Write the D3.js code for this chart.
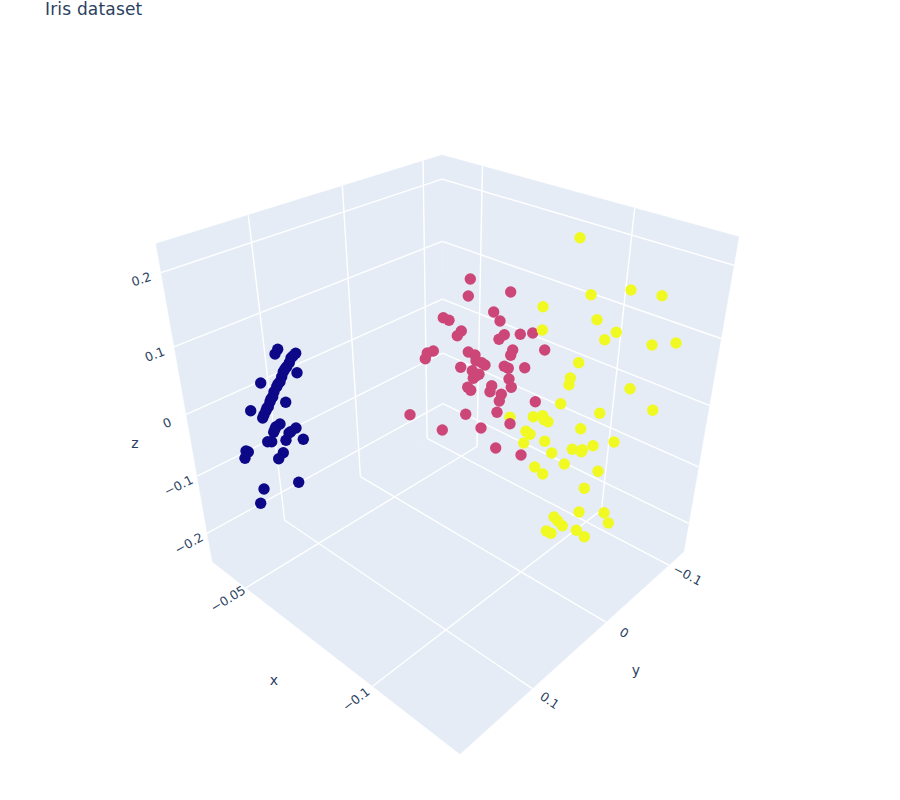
<!DOCTYPE html>
<html>
<head>
<meta charset="utf-8">
<script src="https://cdn.jsdelivr.net/npm/d3@7"></script>
<style>
  body { margin: 0; background: #fff; }
  text { font-family: "DejaVu Sans", Verdana, sans-serif; fill: #2a3f5f; }
</style>
</head>
<body>
<div id="chart"></div>
<script>
// axis ticks and the value each box edge stands for
const xDomain = [-0.0345, -0.1282];
const yDomain = [-0.1257, 0.1842];
const zDomain = [-0.2533, 0.2366];
const xTicks = [-0.05, -0.1];
const yTicks = [-0.1, 0, 0.1];
const zTicks = [-0.2, -0.1, 0, 0.1, 0.2];
const xTickLabels = ["\u22120.05", "\u22120.1"];
const yTickLabels = ["\u22120.1", "0", "0.1"];
const zTickLabels = ["\u22120.2", "\u22120.1", "0", "0.1", "0.2"];

// Points: position on the view plane (depth can't be
// read from a single view), horizontal 0-90, vertical 0-80 counted from the bottom
const setosaH = [27.77, 27.5, 29.57, 29.1, 28.93, 28.67, 29.7, 28.33, 28.17, 28, 26.07, 27.67, 27.4, 27.27, 28.57, 27, 26.83, 25.07, 26.6, 26.4, 26.27, 28, 27.6, 27.37, 29.6, 29.07, 28.6, 30.33, 27.17, 26.77, 24.83, 24.6, 24.5, 28.33, 27.87, 29.87, 26.4, 26.07, 29.3, 28.5, 27.8, 27.1, 26.7, 27.5, 28.9];
const setosaV = [45.07, 44.6, 44.67, 44.2, 43.73, 43.33, 42.73, 42.83, 42.33, 41.83, 41.7, 41.33, 40.83, 40.33, 39.77, 39.83, 39.33, 38.93, 38.93, 38.53, 38.2, 37.6, 37.33, 36.77, 37.2, 36.83, 35.97, 36.07, 35.83, 35.83, 34.8, 34.9, 34.17, 34.73, 34.13, 31.77, 31.1, 29.67, 44.4, 43.1, 41.6, 40.1, 39.2, 37.1, 36.7];

const versicolorH = [47.03, 46.83, 51.07, 49.37, 50, 44.33, 44.9, 46.13, 45.73, 50.43, 49.9, 52.03, 53.27, 54.47, 51.27, 51.07, 43.33, 42.73, 42.53, 46.83, 47.5, 47.6, 48.17, 48.5, 46.07, 47.23, 47.9, 47.6, 47.33, 50.43, 50.83, 52.47, 50.9, 51.13, 49.17, 49, 46.77, 47.07, 50.13, 49.93, 53.53, 49.7, 46.57, 41, 51, 44.23, 48.1, 49.57, 52.1];
const versicolorV = [52.1, 50.4, 50.8, 48.8, 47.9, 48.23, 47.97, 46.9, 46.43, 46.53, 46.07, 46.57, 46.7, 45, 45, 44.47, 44.9, 44.7, 44.13, 44.8, 44.5, 43.93, 43.73, 43.5, 43.27, 42.93, 42.57, 42.4, 42.17, 43.37, 43.17, 43.23, 42.1, 41.27, 41.43, 40.83, 41.27, 40.97, 40.57, 39.9, 39.83, 38.77, 38.57, 38.53, 37.63, 37, 37.2, 35.2, 34.5];

// the first virginica point sits behind the versicolor cloud
const virginicaH = [51, 58, 59.1, 63.1, 66.2, 54.3, 59.7, 61.63, 60.47, 65.2, 67.6, 54.23, 57.87, 57.03, 56.9, 63, 56.07, 65.27, 59.97, 53.33, 54.27, 54.4, 54.8, 58.07, 52.6, 53, 52.37, 54.47, 61.4, 55.17, 57.23, 59.3, 58.23, 58.13, 56.43, 53.47, 54.27, 59.8, 58.43, 57.9, 60.4, 60.83, 55.4, 55.77, 56.23, 54.63, 55.1, 57.63, 58.43];
const virginicaV = [38.27, 56.23, 50.53, 51, 50.43, 49.33, 48.03, 46.77, 46.03, 45.5, 45.7, 47, 43.73, 42.2, 41.53, 41.13, 39.63, 38.97, 38.67, 38.33, 38.43, 38.03, 37.83, 37.13, 36.87, 36.57, 35.7, 35.87, 35.8, 34.7, 35.07, 35.43, 35.03, 34.83, 33.6, 33.3, 32.6, 32.87, 31.17, 28.8, 28.73, 27.7, 28.3, 27.9, 27.43, 26.9, 26.67, 26.97, 26.33];

const width = 900, height = 800;

// perspective of the box, fitted to its corners and grid crossings:
// screen = (O + t*U + s*V + r*W) for unit box coordinates t, s, r
const camO = [443.01, 429.17, 1];
const camU = [123.7074, 28.2365, -0.1711];
const camV = [-269.3458, 30.1867, -0.1823];
const camW = [-70.6126, -298.4709, -0.1574];

function projectUnit(t, s, r) {
    const p = camO.map((n, i) => n + t * camU[i] + s * camV[i] + r * camW[i]);
    return [p[0] / p[2], p[1] / p[2]];
}

const x = d3.scaleLinear().domain(xDomain).range([0, 1]);
const y = d3.scaleLinear().domain(yDomain).range([0, 1]);
const z = d3.scaleLinear().domain(zDomain).range([0, 1]);
const project = (a, b, c) => projectUnit(x(a), y(b), z(c));

const viewH = d3.scaleLinear().domain([0, 90]).range([0, width]);
const viewV = d3.scaleLinear().domain([0, 80]).range([height, 0]);

const svg = d3.select("#chart")
    .append("svg")
    .attr("width", width)
    .attr("height", height);

const line = d3.line();

// walls and floor
const faces = [
    [[0, 0, 0], [1, 0, 0], [1, 0, 1], [0, 0, 1]],
    [[0, 0, 0], [0, 1, 0], [0, 1, 1], [0, 0, 1]],
    [[0, 0, 0], [1, 0, 0], [1, 1, 0], [0, 1, 0]]
];
svg.append("g")
    .selectAll("path")
    .data(faces)
    .join("path")
    .attr("d", d => line(d.map(c => projectUnit(c[0], c[1], c[2]))) + "Z")
    .attr("fill", "#E5ECF6")
    .attr("stroke", "#E5ECF6")
    .attr("stroke-width", 0.5);

// grid lines: [start, end] in data coordinates
const [x0, x1] = xDomain, [y0, y1] = yDomain, [z0, z1] = zDomain;
const grid = [];
xTicks.forEach(t => {
    grid.push([[t, y0, z0], [t, y1, z0]]);
    grid.push([[t, y0, z0], [t, y0, z1]]);
});
yTicks.forEach(t => {
    grid.push([[x0, t, z0], [x1, t, z0]]);
    grid.push([[x0, t, z0], [x0, t, z1]]);
});
zTicks.forEach(t => {
    grid.push([[x0, y0, t], [x1, y0, t]]);
    grid.push([[x0, y0, t], [x0, y1, t]]);
});
svg.append("g")
    .selectAll("path")
    .data(grid)
    .join("path")
    .attr("d", d => line(d.map(c => project(c[0], c[1], c[2]))))
    .attr("fill", "none")
    .attr("stroke", "#fff")
    .attr("stroke-width", 1.4);

// tick labels sit past the end of their grid line and follow its direction
function tickLabel(from, to, label) {
    const a = project(from[0], from[1], from[2]);
    const b = project(to[0], to[1], to[2]);
    const dx = b[0] - a[0], dy = b[1] - a[1], len = Math.hypot(dx, dy);
    const px = b[0] + dx / len * 21, py = b[1] + dy / len * 21;
    let angle = Math.atan2(dy, dx) * 180 / Math.PI;
    if (angle > 90) angle -= 180;
    if (angle < -90) angle += 180;
    svg.append("text")
        .attr("transform", `translate(${px},${py}) rotate(${angle})`)
        .attr("text-anchor", "middle")
        .attr("dy", "0.35em")
        .attr("font-size", 12.5)
        .text(label);
}
xTicks.forEach((t, i) => tickLabel([t, y0, z0], [t, y1, z0], xTickLabels[i]));
yTicks.forEach((t, i) => tickLabel([x0, t, z0], [x1, t, z0], yTickLabels[i]));
zTicks.forEach((t, i) => tickLabel([x0, y0, t], [x0, y1, t], zTickLabels[i]));

// axis titles
[["x", 274, 680], ["y", 636, 670], ["z", 135, 443]].forEach(d => {
    svg.append("text")
        .attr("x", d[1])
        .attr("y", d[2])
        .attr("text-anchor", "middle")
        .attr("dy", "0.35em")
        .attr("font-size", 14)
        .text(d[0]);
});

function drawPoints(h, v, color) {
    svg.append("g")
        .selectAll("circle")
        .data(h.map((d, i) => [d, v[i]]))
        .join("circle")
        .attr("cx", d => viewH(d[0]))
        .attr("cy", d => viewV(d[1]))
        .attr("r", 5.7)
        .attr("fill", color);
}
drawPoints(setosaH, setosaV, "#0d0887");
drawPoints(virginicaH.slice(0, 1), virginicaV.slice(0, 1), "#f0f921");
drawPoints(versicolorH, versicolorV, "#cc4778");
drawPoints(virginicaH.slice(1), virginicaV.slice(1), "#f0f921");

svg.append("text")
    .attr("x", 45)
    .attr("y", 15)
    .attr("font-size", 17)
    .attr("letter-spacing", 0.18)
    .text("Iris dataset");
</script>
</body>
</html>
